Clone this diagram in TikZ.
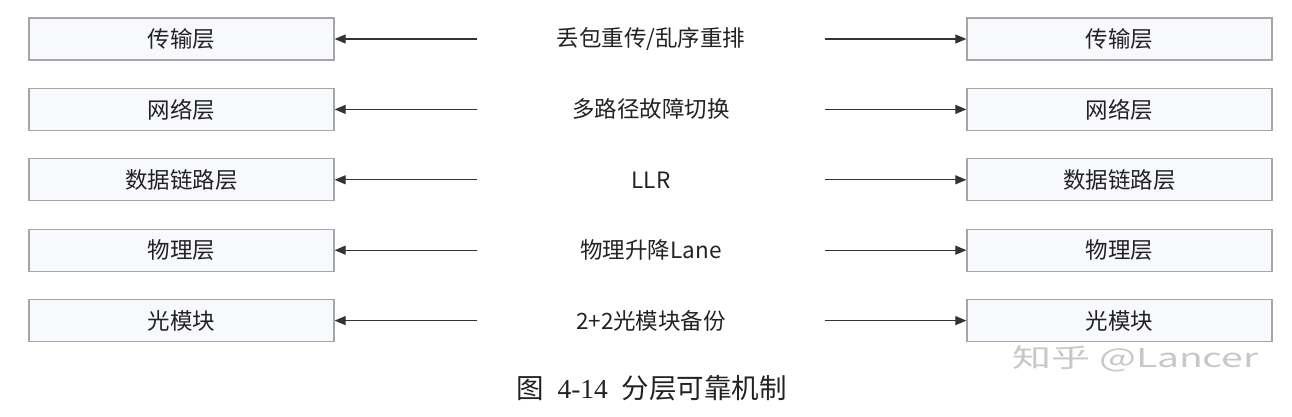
\documentclass[tikz,border=0pt]{standalone}
\usepackage{fontspec}
\setmainfont{Noto Sans CJK SC}
\newfontfamily\capserif{Liberation Serif}
\usetikzlibrary{arrows.meta}
\definecolor{boxfill}{HTML}{F8F9FD}
\definecolor{boxline}{HTML}{A6A6A6}
\definecolor{textgray}{HTML}{222222}
\definecolor{markgray}{HTML}{C8C8C8}

\begin{document}
\begin{tikzpicture}[x=1pt,y=-1pt,-{Triangle[length=11pt,width=9pt]},draw=black!80,line width=1.2pt,
    font=\fontsize{22.5}{26}\selectfont,text=textgray]
  \tikzstyle{layer}=[rectangle,draw=boxline,fill=boxfill,line width=1.3pt,minimum width=305pt,minimum height=42pt,inner sep=0pt]
  \tikzstyle{mech}=[minimum width=346pt,inner sep=0pt]
  \useasboundingbox (0,0) rectangle (1292,416);

  \foreach \y/\lay/\how in {1/传输层/{丢包重传/乱序重排}, 2/网络层/多路径故障切换,
      3/数据链路层/LLR, 4/物理层/物理升降Lane, 5/光模块/2+2光模块备份}
  {
    \node[layer] (L-\y) at (181.5,{39+70.4*(\y-1)}) {\lay};
    \node[mech] (M-\y) at (651,{39+70.4*(\y-1)}) {\how};
    \node[layer] (R-\y) at (1119.5,{39+70.4*(\y-1)}) {\lay};
    \draw (M-\y) -- (L-\y);
    \draw (M-\y) -- (R-\y);
  }

  \node (caption) at (651.5,388) {\fontsize{27.5}{30}\selectfont 图\hspace{14pt}{\capserif 4-14}\hspace{14pt}分层可靠机制};
  \node[text=markgray] (mark) at (1135.5,359) {\fontsize{26}{30}\selectfont\scalebox{1.5}[1]{知乎 @Lancer}};
\end{tikzpicture}
\end{document}
